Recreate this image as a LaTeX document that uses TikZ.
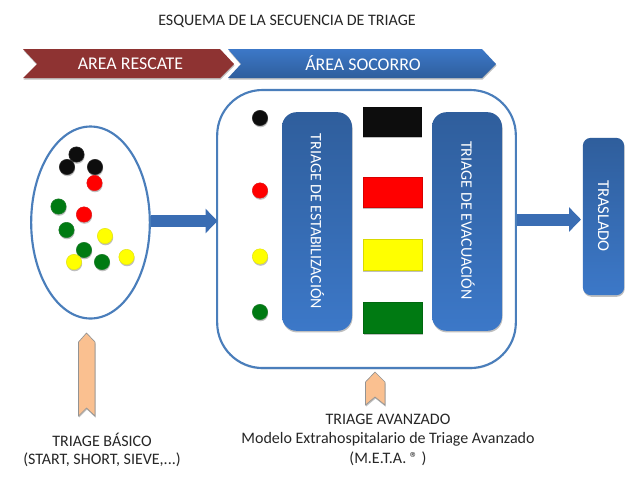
\documentclass[tikz,border=0pt]{standalone}
\usepackage{fontspec}
\setmainfont{Carlito}
\usetikzlibrary{shadows,arrows.meta,calc,shapes.geometric}
\definecolor{bluetop}{HTML}{2F5E9C}
\definecolor{bluebot}{HTML}{3C78C8}
\definecolor{blueline}{HTML}{4A7EBB}
\definecolor{bluearrow}{HTML}{3A6DB3}
\definecolor{redtop}{HTML}{8E3332}
\definecolor{peach}{HTML}{FAC090}
\definecolor{dkgreen}{HTML}{007A12}
\definecolor{tagblack}{HTML}{0D0D0D}
\definecolor{tagyellow}{HTML}{FFFF00}
\definecolor{tagred}{HTML}{FF0000}
\tikzset{
  x=0.75pt,y=-0.75pt,
  softshadow/.style={drop shadow={shadow xshift=0.4pt,shadow yshift=-1.2pt,fill=black,opacity=0.25}},
  panel/.style={rounded corners=11pt,top color=bluetop,bottom color=bluebot,softshadow,draw=none,
    inner sep=0pt,anchor=center},
  dot/.style={circle,minimum size=11.5pt,inner sep=0pt,softshadow,draw=#1!80!gray,line width=0.4pt,fill=#1},
  tag/.style={fill=#1,draw=#1!85!black,line width=0.5pt,softshadow,inner sep=0pt,anchor=north west},
  blockarrow/.style={draw=bluearrow,line width=9pt,-{Triangle[length=9pt,width=18pt]}},
  banner/.style={softshadow,draw=none},
  bannertext/.style={text=white,font=\fontsize{13.4}{15}\selectfont,inner sep=0pt},
  vertext/.style={text=white,font=\fontsize{#1}{14}\selectfont,inner sep=0pt,rotate=-90},
  peacharrow/.style={fill=peach,draw=gray!85,line width=0.5pt,softshadow},
  caption/.style={text=black!85,font=\fontsize{12}{14}\selectfont,inner sep=0pt,align=center},
}
\newcommand{\dotat}[3]{\node[dot=#1] (#3) at (#2) {};}
\begin{document}
\begin{tikzpicture}
\useasboundingbox (0,0) rectangle (640,480);
\fill[white] (0,0) rectangle (640,480);

\node[caption] (title) at (287,21.5) {ESQUEMA DE LA SECUENCIA DE TRIAGE};

% banners
\path[banner,fill=redtop] (23,49) -- (220,49) -- (234,64) -- (220,78) -- (23,78) -- (37,64) -- cycle;
\path[banner,top color=bluebot,bottom color=bluetop] (228,49) -- (482,49) -- (496,64) -- (482,78) -- (228,78) -- (241,64) -- cycle;
\node[bannertext] (rescate) at (130.5,64) {AREA RESCATE};
\node[bannertext] (socorro) at (363,63) {ÁREA SOCORRO};

% crowd
\node[draw=blueline,line width=1.6pt,ellipse,minimum width=89pt,minimum height=144pt,inner sep=0pt,fill=white] (crowd) at (90.5,222.5) {};
\dotat{tagblack}{76.5,154.5}{k1}
\dotat{tagblack}{67,167}{k2}
\dotat{tagblack}{95,167}{k3}
\dotat{tagred}{94.5,183}{r1}
\dotat{tagred}{84,214.5}{r2}
\dotat{dkgreen}{58.5,206.5}{g1}
\dotat{dkgreen}{66.5,230}{g2}
\dotat{tagyellow}{105,236}{y1}
\dotat{dkgreen}{84,250}{g3}
\dotat{tagyellow}{74,262}{y2}
\dotat{dkgreen}{102,262}{g4}
\dotat{tagyellow}{126.5,257}{y3}

% big rounded box
\node[draw=blueline,line width=1.6pt,rounded corners=34pt,minimum width=224pt,minimum height=208.5pt,inner sep=0pt,fill=white,drop shadow={shadow xshift=0pt,shadow yshift=-1pt,fill=black,opacity=0.15}] (bigbox) at (366.5,229) {};

\dotat{tagblack}{260,118}{d1}
\dotat{tagred}{260,190.5}{d2}
\dotat{tagyellow}{260,256.5}{d3}
\dotat{dkgreen}{260,312}{d4}

\node[panel,minimum width=52.5pt,minimum height=164pt] (estab) at (317,221.5) {};
\node[panel,minimum width=52.5pt,minimum height=164pt] (evac) at (467,221.5) {};
\node[vertext=11.9] (estabt) at (317.5,221.5) {TRIAGE DE ESTABILIZACIÓN};
\node[vertext=12] (evact) at (468,220.5) {TRIAGE DE EVACUACIÓN};

\node[tag=tagblack,minimum width=44pt,minimum height=22pt] (tk) at (362.5,107) {};
\node[tag=tagred,minimum width=44.5pt,minimum height=23pt] (tr) at (362.5,176.5) {};
\node[tag=tagyellow,minimum width=44.5pt,minimum height=23pt] (ty) at (362.5,239) {};
\node[tag=dkgreen,minimum width=44.5pt,minimum height=23pt] (tg) at (363,302) {};

% traslado
\node[panel,rounded corners=6pt,minimum width=31pt,minimum height=118pt] (tras) at (603.5,216.5) {};
\node[vertext=12.4] (trast) at (603.5,216) {TRASLADO};

% block arrows
\coordinate (a1s) at ($(crowd.east)+(0,-1.5)$);
\coordinate (a1e) at (217.5,221);
\coordinate (a2s) at (517,219.5);
\coordinate (a2e) at (581,219.5);
\draw[blockarrow] (a1s) -- (a1e);
\draw[blockarrow] (a2s) -- (a2e);

% peach arrows
\path[peacharrow] (78.5,342) -- (86.5,333) -- (95,342) -- (95,416) -- (86.5,408) -- (78.5,416) -- cycle;
\path[peacharrow] (365.5,382) -- (375,372) -- (385,382) -- (385,405) -- (375,397) -- (365.5,405) -- cycle;

% captions
\node[caption] (basico) at (102,439.5) {TRIAGE BÁSICO};
\node[caption] (basico2) at (102,459.5) {(START, SHORT, SIEVE,...)};
\node[caption] (avz1) at (388,419.5) {TRIAGE AVANZADO};
\node[caption] (avz2) at (388,439) {Modelo Extrahospitalario de Triage Avanzado};
\node[caption] (avz3) at (388,458.5) {(M.E.T.A. ® )};
\end{tikzpicture}
\end{document}
